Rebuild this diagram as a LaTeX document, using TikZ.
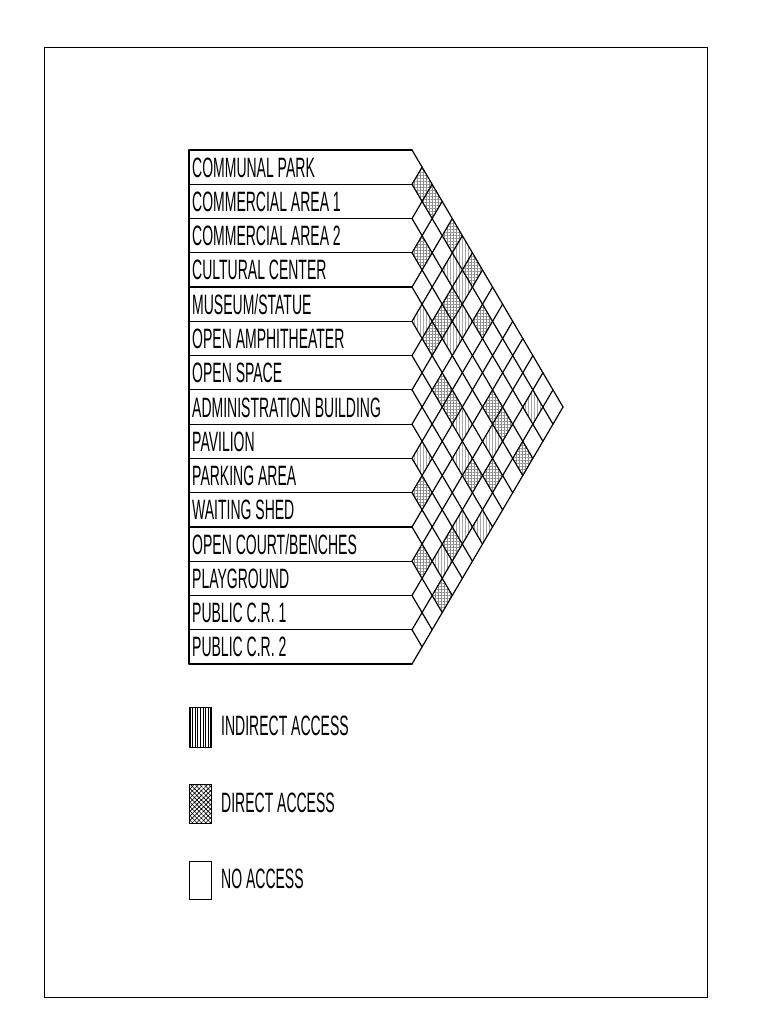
\documentclass[tikz,border=0pt]{standalone}
\usepackage{fontspec}
\setmainfont{Liberation Sans}[FakeStretch=0.5]
\usetikzlibrary{patterns.meta}
\begin{document}
\begin{tikzpicture}[x=1pt,y=-1pt,
  gline/.style={line width=1.2pt, black, line cap=round, line join=round},
  direct/.style={pattern={Hatch[angle=0,distance=3pt,line width=0.6pt]}, pattern color=black!45},
  indirect/.style={pattern={Lines[angle=90,distance=3pt,line width=0.6pt]}, pattern color=black!35},
  lgindirect/.style={pattern={Lines[angle=90,distance=2.6pt,line width=0.6pt]}, pattern color=black},
  lgdirect/.style={pattern={Hatch[angle=45,distance=3.2pt,line width=0.6pt]}, pattern color=black},
  lbl/.style={anchor=base west, inner sep=0pt, font=\fontsize{28}{30}\selectfont}]
\useasboundingbox (0,0) rectangle (768,1024);
\draw[line width=1pt] (44,48) rectangle (707,997);
% shaded cells
\foreach \i/\j in {0/1,0/2,0/4,0/6,2/3,1/8,2/6,3/6,4/6,5/8,5/9,3/11,3/12,3/14,6/12,5/13,9/10,9/13,11/12,11/14} {
  \pgfmathsetmacro\cx{412+(\j-\i)*10.07}
  \pgfmathsetmacro\cy{150+(\i+\j+1)*17.1333}
  \fill[direct] (\cx-10.07,\cy) -- (\cx,\cy-17.1333) -- (\cx+10.07,\cy) -- (\cx,\cy+17.1333) -- cycle;
}
\foreach \i/\j in {0/5,1/5,1/6,2/7,3/7,4/5,5/10,1/13,4/12,8/9,6/11,8/13,7/14,10/13} {
  \pgfmathsetmacro\cx{412+(\j-\i)*10.07}
  \pgfmathsetmacro\cy{150+(\i+\j+1)*17.1333}
  \fill[indirect] (\cx-10.07,\cy) -- (\cx,\cy-17.1333) -- (\cx+10.07,\cy) -- (\cx,\cy+17.1333) -- cycle;
}
% grid lines
\draw[gline] (189,150) -- (189,664);
\foreach \k in {0,...,15} {
  \pgfmathsetmacro\by{150+\k*34.2667}
  \draw[gline] (189,\by) -- (412,\by);
  \draw[gline] (412,\by) -- ++({(15-\k)*10.07},{(15-\k)*17.1333});
  \draw[gline] (412,\by) -- ++({\k*10.07},{-\k*17.1333});
}
% labels
\foreach \t [count=\r from 0] in {COMMUNAL PARK,COMMERCIAL AREA 1,COMMERCIAL AREA 2,CULTURAL CENTER,MUSEUM/STATUE,OPEN AMPHITHEATER,OPEN SPACE,ADMINISTRATION BUILDING,PAVILION,PARKING AREA,WAITING SHED,OPEN COURT/BENCHES,PLAYGROUND,PUBLIC C.R. 1,PUBLIC C.R. 2} {
  \pgfmathsetmacro\ly{150+(\r+0.5)*34.2667+10}
  \node[lbl] (lab\r) at (192,\ly) {\t};
}
% legend
\draw[line width=1pt, lgindirect] (189,707) rectangle (211,747);
\draw[line width=1pt, lgdirect] (189,784) rectangle (211,823);
\draw[line width=1pt] (189,861) rectangle (211,899);
\node[lbl] (lg1) at (221,735) {INDIRECT ACCESS};
\node[lbl] (lg2) at (221,812) {DIRECT ACCESS};
\node[lbl] (lg3) at (221,888) {NO ACCESS};
\end{tikzpicture}
\end{document}
